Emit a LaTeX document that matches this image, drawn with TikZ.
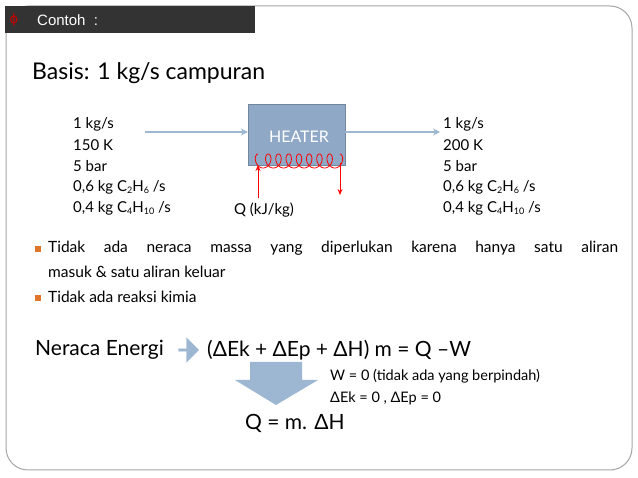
\documentclass[tikz,border=0pt]{standalone}
\usepackage{fontspec}
\setmainfont{Lato}
\newfontfamily\arialf{Liberation Sans}
\newfontfamily\djv{DejaVu Sans}
\usetikzlibrary{arrows.meta,shapes.arrows}
\definecolor{boxblue}{HTML}{8EA8C6}
\definecolor{arrblue}{HTML}{9DB7D3}
\definecolor{bulor}{HTML}{E0762A}
\newcommand{\sbs}[1]{\raisebox{-0.35ex}{\fontsize{9}{10}\selectfont #1}}
\tikzset{
  lbl/.style={anchor=west,inner sep=0pt,font=\fontsize{15}{17}\selectfont},
  body/.style={anchor=west,inner sep=0pt,font=\fontsize{15.5}{20}\selectfont},
  big/.style={anchor=west,inner sep=0pt,font=\fontsize{21}{24}\selectfont},
  small/.style={anchor=west,inner sep=0pt,font=\fontsize{14.5}{17}\selectfont},
  flow/.style={draw=arrblue,line width=1.2pt,-{Stealth[length=7pt,width=7pt]}},
  heat/.style={draw=red,line width=1pt,-{Stealth[length=6pt,width=5pt]}},
  bullet/.style={fill=bulor,minimum size=6pt,inner sep=0pt}
}
\begin{document}
\begin{tikzpicture}[x=1pt,y=-1pt]
\useasboundingbox (0,0) rectangle (638,478);
\fill[white] (0,0) rectangle (638,478);
\draw[gray!70,line width=1pt,rounded corners=22pt] (6,6) rectangle (632,470);
\fill[black!80] (5,6) rectangle (255,33);
\node[inner sep=0pt,text=red!80!black,font=\djv\fontsize{13}{14}\selectfont] (phi) at (14,20) {ɸ};
\node[anchor=west,inner sep=0pt,text=white,font=\arialf\fontsize{15}{17}\selectfont] (ct) at (37,20) {Contoh \ :};
\node[anchor=west,inner sep=0pt,font=\fontsize{23}{26}\selectfont] (basis) at (32,73) {Basis: 1 kg/s campuran};
% heater
\node[draw=boxblue!80!black,fill=boxblue,minimum width=97pt,minimum height=61pt,inner sep=0pt] (heater) at (296.5,134.5) {};
\node[text=white,font=\fontsize{16}{18}\selectfont,inner sep=0pt] (ht) at (299,137) {HEATER};
\coordinate (in) at (145,132);
\coordinate (out) at (440,132);
\draw[flow] (in) -- (heater.west|-in);
\draw[flow] (heater.east|-out) -- (out);
% left labels
\node[lbl] (l1) at (73,124) {1 kg/s};
\node[lbl] (l2) at (73,145) {150 K};
\node[lbl] (l3) at (73,166) {5 bar};
\node[lbl] (l4) at (73,187) {0,6 kg C\sbs{2}H\sbs{6} /s};
\node[lbl] (l5) at (73,208) {0,4 kg C\sbs{4}H\sbs{10} /s};
\node[lbl] (r1) at (443,124) {1 kg/s};
\node[lbl] (r2) at (443,145) {200 K};
\node[lbl] (r3) at (443,166) {5 bar};
\node[lbl] (r4) at (443,187) {0,6 kg C\sbs{2}H\sbs{6} /s};
\node[lbl] (r5) at (443,208) {0,4 kg C\sbs{4}H\sbs{10} /s};
% heat coil
\coordinate (qs) at (258,198);
\coordinate (qe) at (258,165);
\draw[heat] (qs) -- (qe);
\draw[red,line width=0.8pt] plot[domain=0:50.3,samples=300,smooth] ({258+1.63*\x-5*sin(\x r)},{161-7*cos(\x r)});
\coordinate (ds) at (340,163);
\coordinate (de) at (340,195);
\draw[heat] (ds) -- (de);
\node[lbl,anchor=center] (q) at (264,210) {Q (kJ/kg)};
% bullets
\node[bullet] (b1) at (38,249) {};
\node[bullet] (b2) at (38,298) {};
\node[body] (t1) at (48,248) {\makebox[570pt][s]{Tidak ada neraca massa yang diperlukan karena hanya satu aliran}};
\node[body] (t2) at (48,272) {masuk \& satu aliran keluar};
\node[body] (t3) at (48,297) {Tidak ada reaksi kimia};
% energy
\node[big] (ne) at (35,350) {Neraca Energi};
\node[single arrow,fill=arrblue,draw=arrblue,minimum height=20pt,minimum width=24pt,single arrow head extend=2pt,inner sep=0pt] (sa) at (188,350) {};
\node[big] (eq) at (207,350) {(ΔEk + ΔEp + ΔH) m = Q –W};
\fill[arrblue] (250,362) -- (302,362) -- (302,380) -- (318,380) -- (276,405) -- (235,380) -- (250,380) -- cycle;
\node[small] (w) at (330,376) {W = 0 (tidak ada yang berpindah)};
\node[small] (ek) at (330,398) {ΔEk = 0 , ΔEp = 0};
\node[big] (qm) at (245,423) {Q = m. ΔH};
\end{tikzpicture}
\end{document}
